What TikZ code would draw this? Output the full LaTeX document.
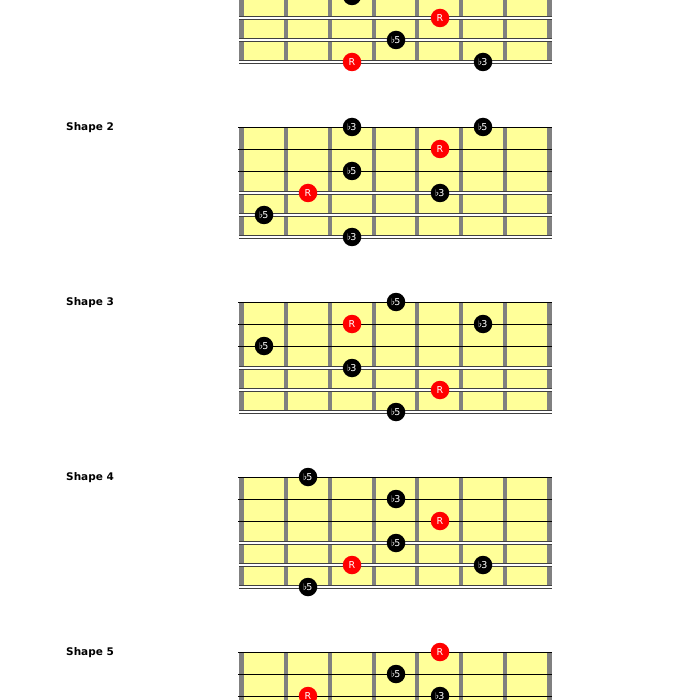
\documentclass[tikz,border=0pt]{standalone}
\usepackage{fontspec}
\setmainfont{DejaVu Sans}
\definecolor{boardyellow}{RGB}{255, 255, 153}
\definecolor{fretgray}{RGB}{128, 128, 128}
\definecolor{rootred}{RGB}{255, 0, 0}
\usetikzlibrary{positioning}
\newcommand{\flatsign}{\ensuremath{\flat}\kern-0.6pt}

\tikzset{
  tone/.style={circle, fill=black, text=white, inner sep=0pt, minimum size=18.5pt, font=\fontsize{9.5}{9.5}\selectfont},
  rootnote/.style={tone, fill=rootred},
  shapename/.style={anchor=west, inner sep=0pt, font=\bfseries\fontsize{10.5}{12}\selectfont},
  plainstring/.style={black, line width=0.9pt},
  woundstring/.style={fretgray!50!black, line width=0.6pt, double=white, double distance=2pt},
}

\begin{document}
\begin{tikzpicture}[x=1pt, y=-1pt]
  \useasboundingbox (0,0) rectangle (700,700);
  \fill[white] (0,0) rectangle (700,700);

  % Boards
  \foreach \t in {-48, 127, 302, 477, 652} {
    \fill[boardyellow] (239,\t) rectangle (551.5,\t+110);
    \fill[fretgray] (239,\t) rectangle (244,\t+110);
    \fill[fretgray] (546.5,\t) rectangle (551.5,\t+110);
    \foreach \f in {286, 330, 374, 417, 461, 505}
      \fill[fretgray] (\f-2,\t) rectangle (\f+2,\t+110);
    \foreach \s in {0, 1, 2}
      \draw[plainstring] (238,\t+22*\s) -- (551.5,\t+22*\s);
    \foreach \s in {3, 4, 5}
      \draw[woundstring] (239,\t+22*\s) -- (551.5,\t+22*\s);
  }

  % Shape 1
  \node[tone] (s1b3a) at (352,-4) {\flatsign3};
  \node[rootnote] (s1ra) at (440,18) {R};
  \node[tone] (s1b5a) at (396,40) {\flatsign5};
  \node[rootnote] (s1rb) at (352,62) {R};
  \node[tone] (s1b3b) at (483,62) {\flatsign3};

  % Shape 2
  \node[shapename] (name2) at (66,128) {Shape 2};
  \node[tone] (s2b3a) at (352,127) {\flatsign3};
  \node[tone] (s2b5a) at (483,127) {\flatsign5};
  \node[rootnote] (s2ra) at (440,149) {R};
  \node[tone] (s2b5b) at (352,171) {\flatsign5};
  \node[rootnote] (s2rb) at (308,193) {R};
  \node[tone] (s2b3b) at (440,193) {\flatsign3};
  \node[tone] (s2b5c) at (264,215) {\flatsign5};
  \node[tone] (s2b3c) at (352,237) {\flatsign3};

  % Shape 3
  \node[shapename] (name3) at (66,303) {Shape 3};
  \node[tone] (s3b5a) at (396,302) {\flatsign5};
  \node[rootnote] (s3ra) at (352,324) {R};
  \node[tone] (s3b3a) at (483,324) {\flatsign3};
  \node[tone] (s3b5b) at (264,346) {\flatsign5};
  \node[tone] (s3b3b) at (352,368) {\flatsign3};
  \node[rootnote] (s3rb) at (440,390) {R};
  \node[tone] (s3b5c) at (396,412) {\flatsign5};

  % Shape 4
  \node[shapename] (name4) at (66,478) {Shape 4};
  \node[tone] (s4b5a) at (308,477) {\flatsign5};
  \node[tone] (s4b3a) at (396,499) {\flatsign3};
  \node[rootnote] (s4ra) at (440,521) {R};
  \node[tone] (s4b5b) at (396,543) {\flatsign5};
  \node[rootnote] (s4rb) at (352,565) {R};
  \node[tone] (s4b3b) at (483,565) {\flatsign3};
  \node[tone] (s4b5c) at (308,587) {\flatsign5};

  % Shape 5
  \node[shapename] (name5) at (66,653) {Shape 5};
  \node[rootnote] (s5ra) at (440,652) {R};
  \node[tone] (s5b5a) at (396,674) {\flatsign5};
  \node[rootnote] (s5rb) at (308,696) {R};
  \node[tone] (s5b3a) at (440,696) {\flatsign3};
\end{tikzpicture}
\end{document}
